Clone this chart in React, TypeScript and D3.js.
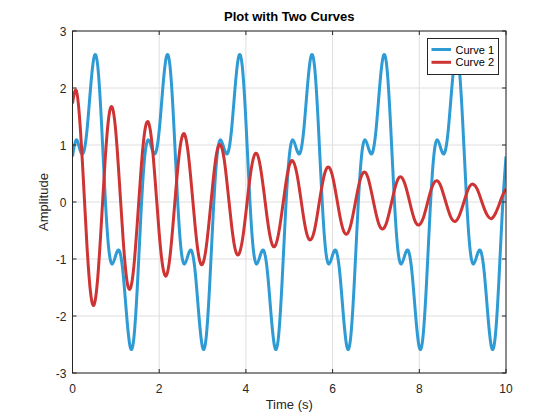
import { useRef, useEffect } from 'react';
import * as d3 from 'd3';

// Samples, one every 1/12 s from 0 to 10 s
const SAMPLE_STEP = 1 / 12;

const CURVE_1 = [
  0.80, 1.09, 0.93, 0.86, 1.25, 2.00, 2.55, 2.38, 1.42, 0.15,
  -0.80, -1.09, -0.93, -0.86, -1.25, -2.00, -2.55, -2.38, -1.42, -0.15,
  0.80, 1.09, 0.93, 0.86, 1.25, 2.00, 2.55, 2.38, 1.42, 0.15,
  -0.80, -1.09, -0.93, -0.86, -1.25, -2.00, -2.55, -2.38, -1.42, -0.15,
  0.80, 1.09, 0.93, 0.86, 1.25, 2.00, 2.55, 2.38, 1.42, 0.15,
  -0.80, -1.09, -0.93, -0.86, -1.25, -2.00, -2.55, -2.38, -1.42, -0.15,
  0.80, 1.09, 0.93, 0.86, 1.25, 2.00, 2.55, 2.38, 1.42, 0.15,
  -0.80, -1.09, -0.93, -0.86, -1.25, -2.00, -2.55, -2.38, -1.42, -0.15,
  0.80, 1.09, 0.93, 0.86, 1.25, 2.00, 2.55, 2.38, 1.42, 0.15,
  -0.80, -1.09, -0.93, -0.86, -1.25, -2.00, -2.55, -2.38, -1.42, -0.15,
  0.80, 1.09, 0.93, 0.86, 1.25, 2.00, 2.55, 2.38, 1.42, 0.15,
  -0.80, -1.09, -0.93, -0.86, -1.25, -2.00, -2.55, -2.38, -1.42, -0.15,
  0.80,
];

const CURVE_2 = [
  1.73, 1.96, 1.44, 0.40, -0.76, -1.59, -1.80, -1.32, -0.36, 0.70,
  1.47, 1.66, 1.22, 0.33, -0.64, -1.35, -1.52, -1.12, -0.31, 0.59,
  1.24, 1.40, 1.03, 0.28, -0.55, -1.14, -1.29, -0.95, -0.26, 0.50,
  1.05, 1.19, 0.87, 0.24, -0.46, -0.97, -1.09, -0.80, -0.22, 0.42,
  0.89, 1.00, 0.74, 0.20, -0.39, -0.82, -0.92, -0.68, -0.19, 0.36,
  0.75, 0.85, 0.62, 0.17, -0.33, -0.69, -0.78, -0.57, -0.16, 0.30,
  0.64, 0.72, 0.53, 0.15, -0.28, -0.59, -0.66, -0.49, -0.13, 0.26,
  0.54, 0.61, 0.45, 0.12, -0.24, -0.50, -0.56, -0.41, -0.11, 0.22,
  0.46, 0.52, 0.38, 0.10, -0.20, -0.42, -0.47, -0.35, -0.10, 0.18,
  0.39, 0.44, 0.32, 0.09, -0.17, -0.36, -0.40, -0.30, -0.08, 0.16,
  0.33, 0.37, 0.27, 0.07, -0.14, -0.30, -0.34, -0.25, -0.07, 0.13,
  0.28, 0.31, 0.23, 0.06, -0.12, -0.25, -0.29, -0.21, -0.06, 0.11,
  0.23,
];

const X_TICKS = [0, 2, 4, 6, 8, 10];
const Y_TICKS = [-3, -2, -1, 0, 1, 2, 3];

const SERIES = [
  { name: 'Curve 1', values: CURVE_1, color: '#2f9bd5' },
  { name: 'Curve 2', values: CURVE_2, color: '#cf3434' },
];

const WIDTH = 560;
const HEIGHT = 420;
const FONT = '"Liberation Sans", Arial, Helvetica, sans-serif';

export default function App() {
  const svgRef = useRef<SVGSVGElement>(null);

  useEffect(() => {
    if (!svgRef.current) return;
    const svg = d3.select(svgRef.current);
    svg.selectAll('*').remove();

    const left = 72.5;
    const right = 506;
    const top = 31;
    const bottom = 373;

    const x = d3.scaleLinear().domain([0, 10]).range([left, right]);
    const y = d3.scaleLinear().domain([-3, 3]).range([bottom, top]);

    // grid
    const grid = svg.append('g').attr('stroke', '#dedede').attr('stroke-width', 1);
    X_TICKS.forEach((t) => {
      grid.append('line')
        .attr('x1', x(t)).attr('x2', x(t))
        .attr('y1', top).attr('y2', bottom);
    });
    Y_TICKS.forEach((t) => {
      grid.append('line')
        .attr('x1', left).attr('x2', right)
        .attr('y1', y(t)).attr('y2', y(t));
    });

    // curves
    svg.append('defs').append('clipPath').attr('id', 'plot-clip')
      .append('rect')
      .attr('x', left).attr('y', top)
      .attr('width', right - left).attr('height', bottom - top);

    const line = d3.line<number>()
      .x((_, i) => x(i * SAMPLE_STEP))
      .y((d) => y(d))
      .curve(d3.curveNatural);

    const curves = svg.append('g').attr('clip-path', 'url(#plot-clip)');
    SERIES.forEach((s) => {
      curves.append('path')
        .attr('d', line(s.values) || '')
        .attr('fill', 'none')
        .attr('stroke', s.color)
        .attr('stroke-width', 3)
        .attr('stroke-linejoin', 'round');
    });

    // axes box with inward ticks
    const axisColor = '#262626';
    svg.append('rect')
      .attr('x', left).attr('y', top)
      .attr('width', right - left).attr('height', bottom - top)
      .attr('fill', 'none')
      .attr('stroke', axisColor)
      .attr('stroke-width', 1);

    const ticks = svg.append('g').attr('stroke', axisColor).attr('stroke-width', 1);
    X_TICKS.forEach((t) => {
      ticks.append('line').attr('x1', x(t)).attr('x2', x(t)).attr('y1', bottom).attr('y2', bottom - 4);
      ticks.append('line').attr('x1', x(t)).attr('x2', x(t)).attr('y1', top).attr('y2', top + 4);
    });
    Y_TICKS.forEach((t) => {
      ticks.append('line').attr('x1', left).attr('x2', left + 4).attr('y1', y(t)).attr('y2', y(t));
      ticks.append('line').attr('x1', right).attr('x2', right - 4).attr('y1', y(t)).attr('y2', y(t));
    });

    const labels = svg.append('g')
      .attr('font-family', FONT)
      .attr('font-size', 12)
      .attr('fill', axisColor);

    X_TICKS.forEach((t) => {
      labels.append('text')
        .attr('x', x(t)).attr('y', bottom + 20)
        .attr('text-anchor', 'middle')
        .text(String(t));
    });
    Y_TICKS.forEach((t) => {
      labels.append('text')
        .attr('x', left - 6).attr('y', y(t) + 4.5)
        .attr('text-anchor', 'end')
        .text(String(t));
    });

    labels.append('text')
      .attr('x', (left + right) / 2).attr('y', 409)
      .attr('text-anchor', 'middle')
      .attr('font-size', 13)
      .text('Time (s)');

    labels.append('text')
      .attr('transform', `translate(48,${(top + bottom) / 2}) rotate(-90)`)
      .attr('text-anchor', 'middle')
      .attr('font-size', 13)
      .text('Amplitude');

    svg.append('text')
      .attr('x', (left + right) / 2).attr('y', 21)
      .attr('text-anchor', 'middle')
      .attr('font-family', FONT)
      .attr('font-size', 13)
      .attr('font-weight', 'bold')
      .attr('fill', '#000')
      .text('Plot with Two Curves');

    // legend
    const legend = svg.append('g');
    legend.append('rect')
      .attr('x', 427.5).attr('y', 38.5)
      .attr('width', 71).attr('height', 36)
      .attr('fill', '#fff')
      .attr('stroke', axisColor)
      .attr('stroke-width', 1);
    SERIES.forEach((s, i) => {
      const ly = 49.5 + i * 12.8;
      legend.append('line')
        .attr('x1', 431.5).attr('x2', 451)
        .attr('y1', ly).attr('y2', ly)
        .attr('stroke', s.color)
        .attr('stroke-width', 3);
      legend.append('text')
        .attr('x', 455.5).attr('y', ly + 4)
        .attr('font-family', FONT)
        .attr('font-size', 11)
        .attr('fill', '#000')
        .text(s.name);
    });
  }, []);

  return (
    <svg
      ref={svgRef}
      width={WIDTH}
      height={HEIGHT}
      viewBox={`0 0 ${WIDTH} ${HEIGHT}`}
      style={{ position: 'absolute', left: 0, top: 0, background: '#fff' }}
    />
  );
}
